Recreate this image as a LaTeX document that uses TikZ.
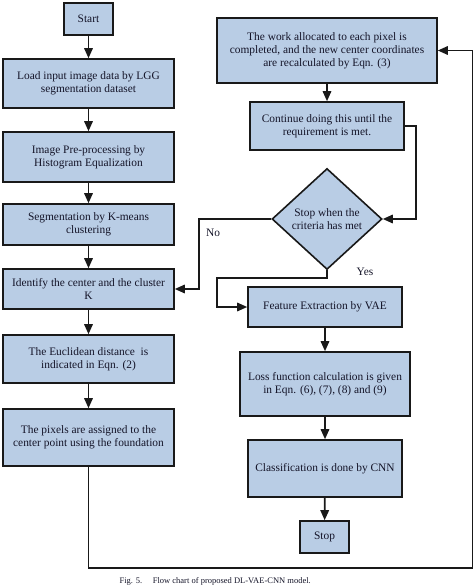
\documentclass[tikz,border=0pt]{standalone}
\usepackage{fontspec}
\setmainfont{Liberation Serif}
\usetikzlibrary{shapes.geometric,arrows.meta}
\definecolor{boxfill}{RGB}{185,205,229}
\definecolor{boxline}{RGB}{25,25,25}
\definecolor{txt}{RGB}{20,20,40}
\begin{document}
\begin{tikzpicture}[x=1pt,y=-1pt,
  box/.style={draw=boxline,fill=boxfill,line width=1.6pt,align=center,inner sep=2pt,
    font=\fontsize{11.4}{13}\selectfont,text=txt},
  dia/.style={draw=boxline,fill=boxfill,line width=1.6pt,align=center,shape=diamond,inner sep=0pt,
    minimum width=110pt,minimum height=101pt,font=\fontsize{11.4}{13}\selectfont,text=txt},
  conn/.style={draw=boxline,line width=1.6pt,-{Triangle[length=10pt,width=8.5pt]}},
  lbl/.style={font=\fontsize{11.4}{13}\selectfont,text=txt}]
\useasboundingbox (0,0) rectangle (474,588);
% left column
\node[box,minimum width=171pt,minimum height=49pt] (load) at (88.5,83.5) {Load input image data by LGG\\segmentation dataset};
\node[box,minimum width=49pt,minimum height=32pt] (start) at (88.5,19) {Start};
\node[box,minimum width=171pt,minimum height=50pt] (pre) at (88.5,157) {Image Pre-processing by\\Histogram Equalization};
\node[box,minimum width=171pt,minimum height=41pt] (seg) at (88.5,224.5) {Segmentation by K-means\\clustering};
\node[box,minimum width=171pt,minimum height=40pt] (ident) at (88.5,289) {Identify the center and the cluster\\K};
\node[box,minimum width=171pt,minimum height=48pt] (eucl) at (88.5,359) {The Euclidean distance\ \ is\\indicated in Eqn. (2)};
\node[box,minimum width=171pt,minimum height=57pt] (pix) at (88.5,437.5) {The pixels are assigned to the\\center point using the foundation};
% right column
\node[box,minimum width=220pt,minimum height=65pt] (work) at (327,50.5) {The work allocated to each pixel is\\completed, and the new center coordinates\\are recalculated by Eqn. (3)};
\node[box,minimum width=154pt,minimum height=48pt] (cont) at (327,126) {Continue doing this until the\\requirement is met.};
\node[dia] (crit) at (327,219) {Stop when the\\criteria has met};
\node[box,minimum width=154pt,minimum height=40pt] (feat) at (325,307) {Feature Extraction by VAE};
\node[box,minimum width=170pt,minimum height=64pt] (loss) at (325,384) {Loss function calculation is given\\in Eqn. (6), (7), (8) and (9)};
\node[box,minimum width=154pt,minimum height=57pt] (cls) at (325,468.5) {Classification is done by CNN};
\node[box,minimum width=49pt,minimum height=32pt] (stop) at (324.5,537) {Stop};
% helper coordinates
\coordinate (b1) at (88.5,568);
\coordinate (b2) at (472.5,568);
\coordinate (c1) at (416,126);
\coordinate (n1) at (199,219);
\coordinate (y1) at (327,278);
\coordinate (y2) at (217,278);
% connectors
\draw[conn] (start) -- (load);
\draw[conn] (load) -- (pre);
\draw[conn] (pre) -- (seg);
\draw[conn] (seg) -- (ident);
\draw[conn] (ident) -- (eucl);
\draw[conn] (eucl) -- (pix);
\draw[conn] (pix.south) -- (b1) -- (b2) |- (work.east);
\draw[conn] (work) -- (cont);
\draw[conn] (cont.east) -- (c1) |- (crit.east);
\draw[conn] (crit.west) -- (n1) |- (ident.east);
\draw[conn] (crit.south) -- (y1) -- (y2) |- (feat.west);
\draw[conn] (feat) -- (loss);
\draw[conn] (loss) -- (cls);
\draw[conn] (cls) -- (stop);
% labels
\node[lbl] (no) at (213,233) {No};
\node[lbl] (yes) at (365,272) {Yes};
\node[anchor=west,font=\fontsize{8.5}{10}\selectfont,text=txt] (cap) at (116,581) {Fig. 5.\quad\ Flow chart of proposed DL-VAE-CNN model.};
\end{tikzpicture}
\end{document}
